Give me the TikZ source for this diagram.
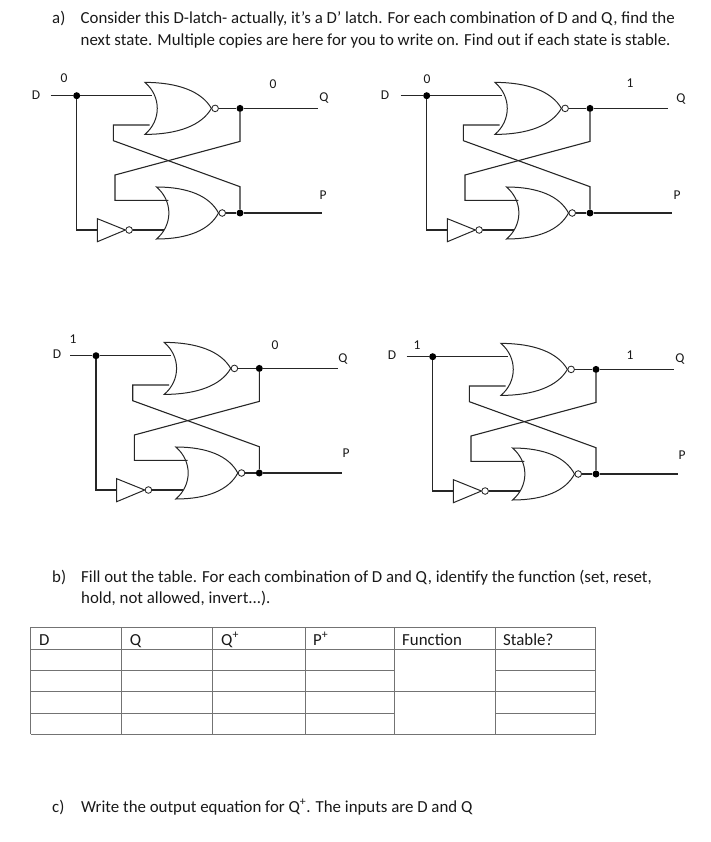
\documentclass[tikz,border=0pt]{standalone}
\usepackage{fontspec}
\setmainfont{Carlito}
\tikzset{
    wire/.style = {draw=black!85, line width=1.1pt},
    gateline/.style = {draw=black!85, line width=1pt},
    dot/.style = {circle, fill=black, inner sep=0pt, minimum size=7pt},
    bubble/.style = {circle, draw=black!85, fill=white, line width=0.85pt, inner sep=0pt, minimum size=6.6pt},
    pinlabel/.style = {font=\fontsize{13.5}{15}\selectfont, text=black!90, inner sep=0pt, text height=8.5pt, text depth=0pt},
    bodytext/.style = {font=\fontsize{16.85}{20}\selectfont, text=black!90, inner sep=0pt, anchor=base west},
    cellhead/.style = {font=\fontsize{16.85}{20}\selectfont, text=black!90, inner sep=0pt, anchor=base west},
    gridline/.style = {draw=black!55, line width=1pt},
    norgate/.pic = {
        \draw[gateline] (-12.5,-26) .. controls (0.38*#1,-26) and (0.82*#1,-17) .. (#1,0)
            .. controls (0.82*#1,17) and (0.38*#1,26) .. (-12.5,26)
            .. controls (4,12) and (4,-12) .. cycle;
        \node[bubble, anchor=west] (bub) at (#1,0) {};
    }
}
% one latch, #1 = name, #2 = place of the D junction
\newcommand{\latch}[2]{
    \begin{scope}[shift={(#2)}, name prefix=#1-]
        \pic (upper) at (80.7,12.7) {norgate=54};
        \pic (lower) at (92.3,117.3) {norgate=49.5};
        \node[dot] (dj) at (0,0) {};
        \node[dot] (qj) at (163.3,12.7) {};
        \node[dot] (pj) at (163.3,117.3) {};
        \coordinate (din) at (-26,0);
        \coordinate (qout) at (241.7,12.7);
        \coordinate (pout) at (245.7,117.3);
        \coordinate (uin) at (75,0);
        \coordinate (uback) at (73,29.3);
        \coordinate (lback) at (91.7,104.7);
        \coordinate (nin) at (20.7,134.3);
        \coordinate (lin) at (87.3,134.3);
        \draw[gateline] (20.7,123) -- (48.7,134.3) -- (20.7,146) -- cycle;
        \node[bubble, anchor=west] (nbub) at (48.7,134.3) {};
        \draw[wire] (din) -- (dj) -- (uin);
        \draw[wire] (dj) |- (nin);
        \draw[wire] (nbub) -- (lin);
        \draw[wire] (upperbub) -- (qj) -- (qout);
        \draw[wire] (lowerbub) -- (pj) -- (pout);
        \draw[wire] (qj) -- (163.3,45.7) -- (38.3,79.3) -- (38.3,104.7) -- (lback);
        \draw[wire] (uback) -- (36.7,29.3) -- (36.7,45) -- (163.3,91) -- (pj);
    \end{scope}
}
\begin{document}
\begin{tikzpicture}[x=1pt, y=-1pt]
    \useasboundingbox (0,0) rectangle (710,842);

    \node[bodytext] (atag) at (52,24) {a)};
    \node[bodytext] (aone) at (80.5,24) {Consider this D-latch- actually, it’s a D’ latch. For each combination of D and Q, find the};
    \node[bodytext] (atwo) at (80.5,46) {next state. Multiple copies are here for you to write on. Find out if each state is stable.};

    \latch{la}{76.7,95.7}
    \latch{lb}{426.7,95.7}
    \latch{lc}{96,355.7}
    \latch{ld}{432.7,356.7}

    \foreach \nm/\x/\y/\txt in {a1/36/95/D, a2/64/78/0, a3/273/84/0, a4/324/97/Q, a5/323/195/P,
        b1/385/95/D, b2/427/79/0, b3/630/83/1, b4/681/98/Q, b5/677/195/P,
        c1/57/354/D, c2/73/339/1, c3/275/345/0, c4/343/358/Q, c5/346/453/P,
        d1/392/355/D, d2/417/345/1, d3/630/355/1, d4/680/358/Q, d5/682/455/P}
        \node[pinlabel] (\nm) at (\x,\y) {\txt};

    \node[bodytext] (btag) at (52,582) {b)};
    \node[bodytext] (bone) at (81,582) {Fill out the table. For each combination of D and Q, identify the function (set, reset,};
    \node[bodytext] (btwo) at (81,603) {hold, not allowed, invert...).};

    % table lines
    \foreach \y in {627.3,649,691,734}
        \draw[gridline] (30.7,\y) -- (595.7,\y);
    \foreach \y in {670.3,713} {
        \draw[gridline] (30.7,\y) -- (394,\y);
        \draw[gridline] (495.7,\y) -- (595.7,\y);
    }
    \foreach \x in {30.7,121.7,212.7,305,394,495.7,595.7}
        \draw[gridline] (\x,627.3) -- (\x,734);

    \node[cellhead] (hd) at (39,645) {D};
    \node[cellhead] (hq) at (129.7,645) {Q};
    \node[cellhead] (hqp) at (221,645) {Q\textsuperscript{+}};
    \node[cellhead] (hpp) at (313,645) {P\textsuperscript{+}};
    \node[cellhead] (hf) at (402,645) {Function};
    \node[cellhead] (hs) at (503,645) {Stable?};

    \node[bodytext] (ctag) at (52,812) {c)};
    \node[bodytext] (cone) at (81,812) {Write the output equation for Q\textsuperscript{+}. The inputs are D and Q};
\end{tikzpicture}
\end{document}
